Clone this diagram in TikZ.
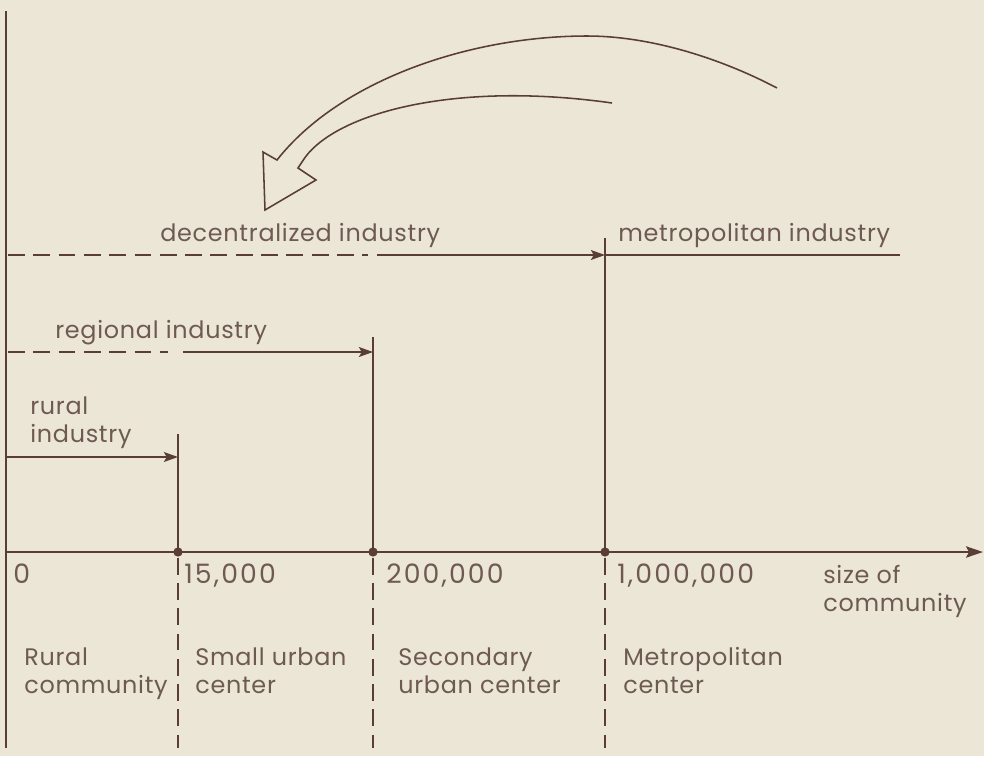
\documentclass[tikz,border=0pt]{standalone}
\usepackage{fontspec}
\usetikzlibrary{arrows.meta}
\newfontfamily\lblfamily{Poppins}[LetterSpace=3]
\newfontfamily\numfamily{Poppins}[LetterSpace=8]
\newcommand\lblfont{\lblfamily\fontsize{17}{20.5}\selectfont}
\newcommand\numfont{\numfamily\fontsize{19}{20.5}\selectfont}
\definecolor{bgc}{HTML}{ECE6D6}
\definecolor{lnc}{HTML}{5A3D36}
\definecolor{txc}{HTML}{6E5A52}
\begin{document}
\begin{tikzpicture}[x=0.25mm,y=-0.25mm,
  ln/.style={draw=lnc,line width=1.5pt},
  dsh/.style={ln,dash pattern=on 12pt off 6pt},
  arr/.style={-{Stealth[length=10pt,width=7pt,inset=2pt]}},
  lbl/.style={text=txc,font=\lblfont,inner sep=0pt,anchor=base west},
  num/.style={lbl,font=\numfont}]
\fill[bgc] (0,0) rectangle (984,756);
\useasboundingbox (0,0) rectangle (984,756);
% key points
\coordinate (ytop) at (6,11);
\coordinate (ybot) at (6,748);
\coordinate (o) at (6,552);
\coordinate (xend) at (983,552);
\coordinate (p1) at (178,552);
\coordinate (p2) at (373,552);
\coordinate (p3) at (605,552);
\coordinate (p1top) at (178,434);
\coordinate (p2top) at (373,337);
\coordinate (p3top) at (605,238);
\coordinate (p1bot) at (178,748);
\coordinate (p2bot) at (373,748);
\coordinate (p3bot) at (605,748);
\coordinate (r0) at (6,457);
\coordinate (r1) at (178,457);
\coordinate (g0) at (8,352);
\coordinate (g1) at (168,352);
\coordinate (g2) at (183,352);
\coordinate (g3) at (373,352);
\coordinate (c0) at (8,255);
\coordinate (c1) at (368,255);
\coordinate (c2) at (377,255);
\coordinate (c3) at (605,255);
\coordinate (m1) at (900,255);
% axes
\draw[ln] (ytop) -- (ybot);
\draw[ln,-{Stealth[length=12pt,width=8pt,inset=2pt]}] (o) -- (xend);
% verticals
\draw[ln] (p1top) -- (p1);
\draw[ln] (p2top) -- (p2);
\draw[ln] (p3top) -- (p3);
\draw[dsh] ([yshift=-4pt]p1) -- (p1bot);
\draw[dsh] ([yshift=-4pt]p2) -- (p2bot);
\draw[dsh] ([yshift=-4pt]p3) -- (p3bot);
\foreach \p in {p1,p2,p3} \fill[lnc] (\p) circle[radius=3.3pt];
% industry arrows
\draw[ln,arr] (r0) -- (r1);
\draw[dsh] (g0) -- (g1);
\draw[ln,arr] (g2) -- (g3);
\draw[dsh] (c0) -- (c1);
\draw[ln,arr] (c2) -- (c3);
\draw[ln] (c3) -- (m1);
% big curved arrow
\draw[ln,line width=1.1pt,line join=miter] (777,88) .. controls (720,58) and (650,36) .. (587,36)
  .. controls (470,36) and (340,80) .. (277,160) -- (263,152) -- (265,210) -- (316,180)
  -- (298,168) -- (302,162) .. controls (330,115) and (450,80) .. (612,103);
% labels
\node[lbl] (tdec) at (160,241) {decentralized industry};
\node[lbl] (tmet) at (618,241) {metropolitan industry};
\node[lbl] (treg) at (55,338) {regional industry};
\node[lbl] (trur) at (30,414) {\begin{tabular}[t]{@{}l@{}}rural\\industry\end{tabular}};
\node[num] (n0) at (13,583) {0};
\node[num] (n1) at (184,583) {15,000};
\node[num] (n2) at (386,583) {200,000};
\node[num] (n3) at (617,583) {1,000,000};
\node[lbl] (tsize) at (823,583) {\begin{tabular}[t]{@{}l@{}}size of\\community\end{tabular}};
\node[lbl] (a1) at (24,665) {\begin{tabular}[t]{@{}l@{}}Rural\\community\end{tabular}};
\node[lbl] (a2) at (195,665) {\begin{tabular}[t]{@{}l@{}}Small urban\\center\end{tabular}};
\node[lbl] (a3) at (398,665) {\begin{tabular}[t]{@{}l@{}}Secondary\\urban center\end{tabular}};
\node[lbl] (a4) at (623,665) {\begin{tabular}[t]{@{}l@{}}Metropolitan\\center\end{tabular}};
\end{tikzpicture}
\end{document}
